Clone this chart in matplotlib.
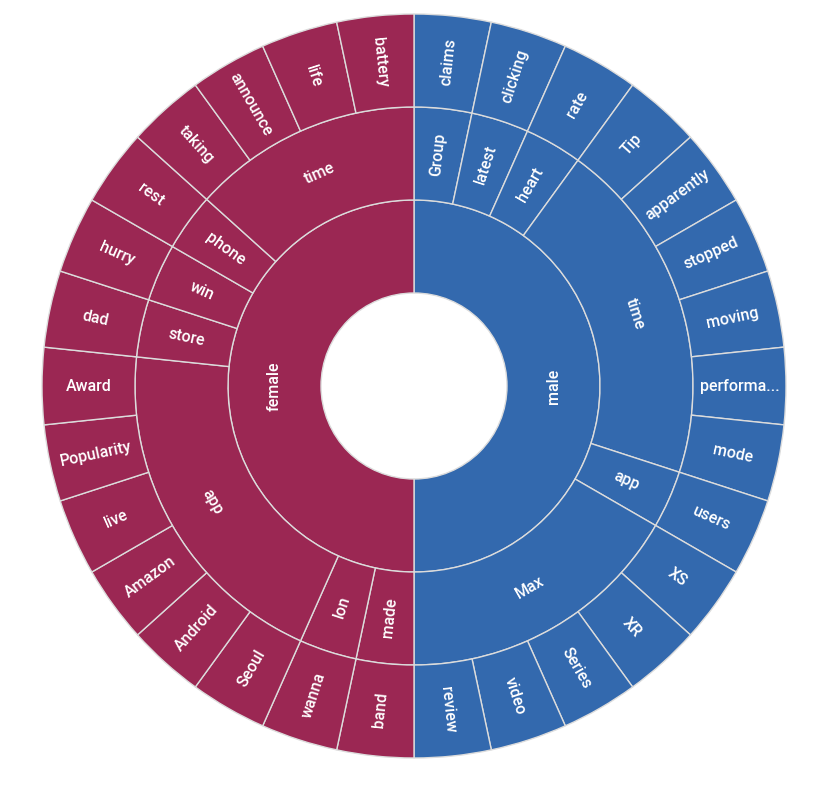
import numpy as np
import matplotlib
matplotlib.use("Agg")
import matplotlib.pyplot as plt

# inner ring (clockwise from 12 o'clock)
genders = ['male', 'female']
gender_colors = ['#3369AE', '#9B2753']

# middle ring, clockwise, with the number of leaves under each
topics = ['Group', 'latest', 'heart', 'time', 'app', 'Max',
          'made', 'Ion', 'app', 'store', 'win', 'phone', 'time']
topic_sizes = [1, 1, 1, 6, 1, 5,
               1, 1, 6, 1, 1, 1, 4]
topic_gender = [0, 0, 0, 0, 0, 0,
                1, 1, 1, 1, 1, 1, 1]

# outer ring leaves, each value 1
words = ['claims', 'clicking', 'rate', 'Tip', 'apparently', 'stopped', 'moving',
         'performance', 'mode', 'users', 'XS', 'XR', 'Series', 'video', 'review',
         'band', 'wanna', 'Seoul', 'Android', 'Amazon', 'live', 'Popularity',
         'Award', 'dad', 'hurry', 'rest', 'taking', 'announce', 'life', 'battery']
word_values = [1] * len(words)
word_gender = [0] * 15 + [1] * 15

gender_values = [sum(v for v, g in zip(word_values, word_gender) if g == i)
                 for i in range(len(genders))]

W, H = 831, 785
cx, cy = 414, 386
ring = 93
edge = '#dcdcdc'

fig = plt.figure(figsize=(W / 100, H / 100), dpi=100)
ax = fig.add_axes([0, 0, 1, 1])

wp = dict(width=ring, edgecolor=edge, linewidth=1.0)
ax.pie(gender_values, radius=2 * ring, startangle=90, counterclock=False,
       colors=gender_colors, wedgeprops=wp)
ax.pie(topic_sizes, radius=3 * ring, startangle=90, counterclock=False,
       colors=[gender_colors[g] for g in topic_gender], wedgeprops=wp)
ax.pie(word_values, radius=4 * ring, startangle=90, counterclock=False,
       colors=[gender_colors[g] for g in word_gender], wedgeprops=wp)

ax.set_xlim(-cx, W - cx)
ax.set_ylim(-(H - cy), cy)
ax.set_aspect('equal')
ax.axis('off')


def norm(rot):
    rot = (rot + 180) % 360 - 180
    if rot > 90:
        rot -= 180
    if rot <= -90:
        rot += 180
    return rot


def put_labels(names, values, r, modes):
    total = float(sum(values))
    start = 0.0
    for name, v, mode in zip(names, values, modes):
        mid = (start + v / 2) / total * 360  # clockwise from top
        start += v
        theta = 90 - mid
        t = np.deg2rad(theta)
        rot = theta if mode == 'radial' else theta - 90
        if len(name) > 10:
            name = name[:8] + '...'
        ax.text(r * np.cos(t), r * np.sin(t), name, color='white',
                fontsize=11.5, family=['Roboto', 'DejaVu Sans'], weight='medium',
                rotation=norm(rot), rotation_mode='anchor',
                ha='center', va='center')


put_labels(genders, gender_values, 1.5 * ring, ['tangential'] * 2)
put_labels(topics, topic_sizes, 2.5 * ring,
           ['tangential' if s > 1 else 'radial' for s in topic_sizes])
put_labels(words, word_values, 3.5 * ring, ['radial'] * len(words))

fig.savefig('out.png', dpi=100, facecolor='white')
